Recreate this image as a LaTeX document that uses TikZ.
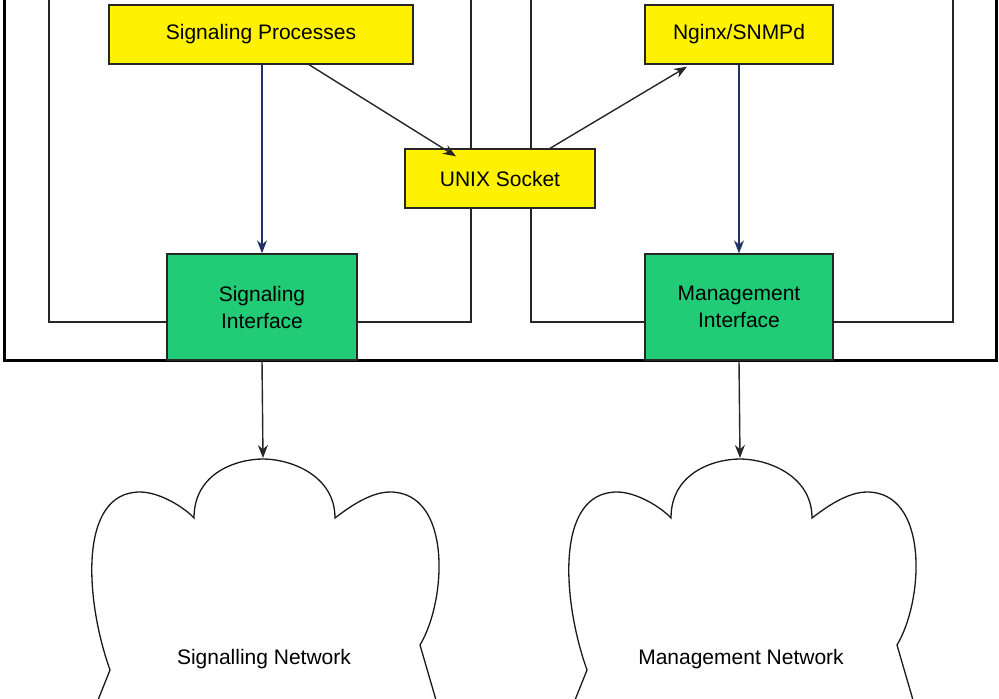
\documentclass[tikz,border=0pt]{standalone}
\usepackage{fontspec}
\setmainfont{Liberation Sans}
\usetikzlibrary{arrows.meta}
\definecolor{ygreen}{RGB}{34,204,119}
\definecolor{navy}{RGB}{30,50,100}
\begin{document}
\begin{tikzpicture}[x=1pt,y=-1pt,
  box/.style={draw=black!85,line width=1.3pt,inner sep=0pt,align=center,font=\fontsize{21}{25}\selectfont},
  ybox/.style={box,fill=yellow},
  gbox/.style={box,fill=ygreen},
  arr/.style={line width=1.4pt,draw=black!85,-{Stealth[length=13pt,width=10pt]}},
  narr/.style={arr,draw=navy},
  frame/.style={draw=black!85,line width=1.3pt},
  cloud/.style={draw=black!90,line width=1.3pt}]
\useasboundingbox (0,0) rectangle (999,699);
\draw[draw=black,line width=3pt] (4,-10) -- (4,360) -- (996,360) -- (996,-10);
\draw[frame] (49,-10) -- (49,322) -- (471,322) -- (471,-10);
\draw[frame] (531,-10) -- (531,322) -- (953,322) -- (953,-10);
\node[ybox,minimum width=304pt,minimum height=59pt] (sp) at (261,34.5) {Signaling Processes};
\node[ybox,minimum width=188pt,minimum height=59pt] (ng) at (739,34.5) {Nginx/SNMPd};
\node[ybox,minimum width=190pt,minimum height=59pt] (us) at (500,178.5) {UNIX Socket};
\node[gbox,minimum width=190pt,minimum height=106pt] (si) at (262,307) {Signaling\\[2pt]Interface};
\node[gbox,minimum width=188pt,minimum height=106pt] (mi) at (739,307) {Management\\[2pt]Interface};
\draw[narr] (sp.south -| si.north) -- (si.north);
\draw[narr] (ng.south -| mi.north) -- (mi.north);
\draw[arr] ([xshift=48pt]sp.south) -- ([xshift=-44pt,yshift=-8pt]us.north);
\draw[arr] ([xshift=50pt]us.north) -- ([xshift=-52pt,yshift=-2pt]ng.south);
\coordinate (c1) at (263,458);
\coordinate (c2) at (740,458);
\draw[arr] (si.south) -- (c1);
\draw[arr] (mi.south) -- (c2);
\foreach \dx/\nm/\t in {0/n1/Signalling Network,477/n2/Management Network}{
\begin{scope}[xshift=\dx]
\draw[cloud] (98,700) -- (110,670) .. controls (85,600) and (78,492) .. (140,492)
  .. controls (160,492) and (185,508) .. (194,518)
  .. controls (194,472) and (238,459) .. (263,459)
  .. controls (290,459) and (335,475) .. (335,518)
  .. controls (348,508) and (370,492) .. (390,492)
  .. controls (452,492) and (447,600) .. (420,645) -- (436,700);
\node[font=\fontsize{21}{25}\selectfont] (\nm) at (264,659) {\t};
\end{scope}}
\end{tikzpicture}
\end{document}
